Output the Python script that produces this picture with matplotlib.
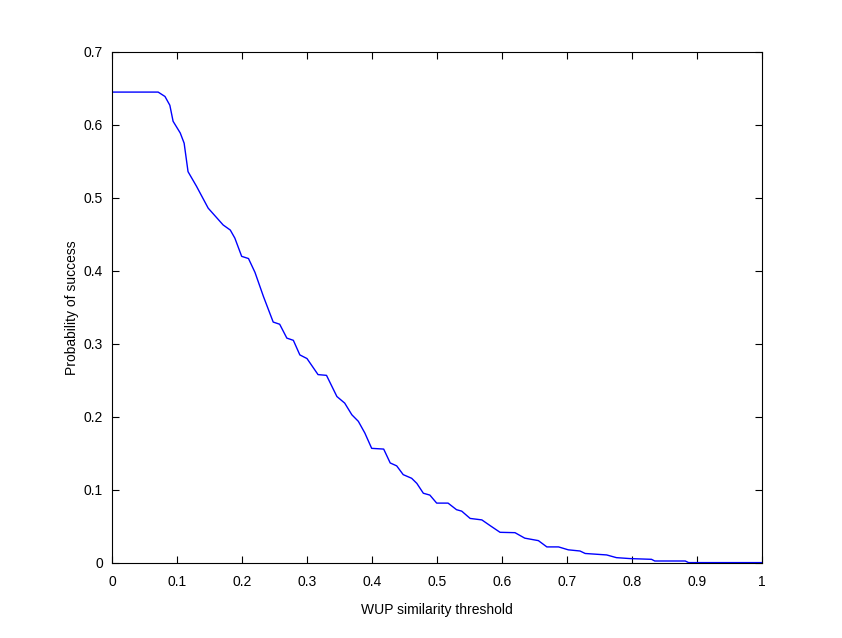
import matplotlib
matplotlib.use("Agg")
import matplotlib.pyplot as plt

# WUP threshold vs probability of success
threshold = [0.0, 0.071, 0.0815, 0.089, 0.094, 0.105, 0.111, 0.117, 0.130, 0.148,
             0.171, 0.182, 0.189, 0.1995, 0.210, 0.220, 0.233, 0.248, 0.258, 0.269,
             0.279, 0.289, 0.300, 0.317, 0.330, 0.346, 0.358, 0.369, 0.379, 0.389,
             0.3995, 0.418, 0.428, 0.438, 0.448, 0.461, 0.469, 0.479, 0.489, 0.4995,
             0.517, 0.530, 0.538, 0.551, 0.569, 0.582, 0.597, 0.620, 0.635, 0.656,
             0.669, 0.687, 0.702, 0.720, 0.728, 0.761, 0.776, 0.797, 0.830, 0.835,
             0.882, 0.887, 1.0]
success = [0.645, 0.645, 0.639, 0.627, 0.605, 0.589, 0.575, 0.536, 0.516, 0.486,
           0.463, 0.456, 0.445, 0.420, 0.417, 0.398, 0.365, 0.330, 0.327, 0.308,
           0.305, 0.285, 0.280, 0.258, 0.257, 0.228, 0.219, 0.203, 0.194, 0.178,
           0.157, 0.156, 0.137, 0.133, 0.121, 0.116, 0.109, 0.0955, 0.093, 0.082,
           0.082, 0.073, 0.071, 0.061, 0.059, 0.051, 0.042, 0.0415, 0.034, 0.0306,
           0.022, 0.022, 0.018, 0.0164, 0.013, 0.011, 0.0073, 0.006, 0.005, 0.0027,
           0.0027, 0.0005, 0.0005]

plt.rcParams['font.family'] = ['Liberation Sans', 'DejaVu Sans']

fig = plt.figure(figsize=(8.42, 6.38), dpi=100)
ax = fig.add_axes([0.133, 0.1176, 0.772, 0.801])
ax.plot(threshold, success, color=(0, 0, 1), linewidth=1.0)

ax.set_xlim(0, 1)
ax.set_ylim(0, 0.7)
ax.set_xticks([i / 10 for i in range(11)])
ax.set_xticklabels(['0', '0.1', '0.2', '0.3', '0.4', '0.5', '0.6', '0.7', '0.8', '0.9', '1'])
ax.set_yticks([i / 10 for i in range(8)])
ax.set_yticklabels(['0', '0.1', '0.2', '0.3', '0.4', '0.5', '0.6', '0.7'])
ax.tick_params(direction='in', top=True, right=True, length=5, labelsize=10)
ax.tick_params(axis='x', pad=9)
ax.tick_params(axis='y', pad=6.5)
for s in ax.spines.values():
    s.set_linewidth(0.8)

ax.set_xlabel('WUP similarity threshold', fontsize=10, labelpad=10)
ax.set_ylabel('Probability of success', fontsize=10, labelpad=3)

fig.savefig('out.png', dpi=100)
